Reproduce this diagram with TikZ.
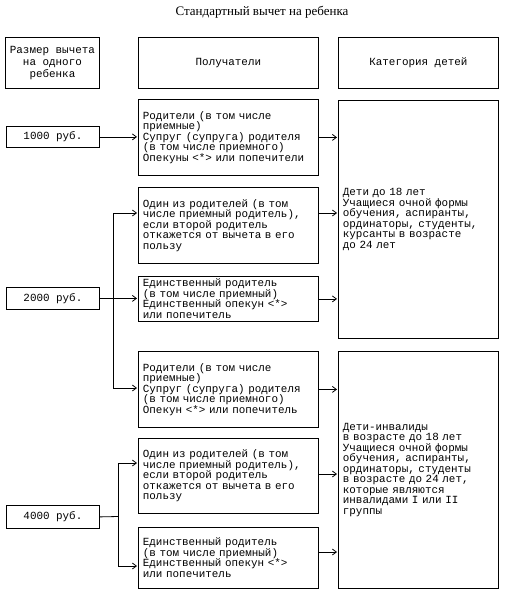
\documentclass[tikz,border=0pt]{standalone}
\usepackage{fontspec}
\setmainfont{Liberation Serif}
\newfontfamily\monofnt{Liberation Mono}
\usetikzlibrary{arrows.meta}
\begin{document}
\begin{tikzpicture}[x=1pt,y=-1pt,line width=0.8pt,
  boxbase/.style={draw,anchor=north west,inner ysep=0pt,inner xsep=4.5pt,font=\monofnt\fontsize{10.9}{10.5}\selectfont},
  colb/.style={boxbase,minimum width=180pt,text width=171pt,align=left},
  colc/.style={boxbase,minimum width=160pt,text width=151pt,align=left,inner xsep=4pt},
  hdr/.style={boxbase,minimum height=51pt,align=center,font=\monofnt\fontsize{10.9}{12}\selectfont},
  numbox/.style={boxbase,minimum width=93pt,minimum height=21pt,align=center},
  arr/.style={-{Straight Barb[length=4pt,width=6pt]},shorten >=1pt}
]
\useasboundingbox[fill=white] (0,0) rectangle (505,599);

\node[font=\fontsize{13}{15}\selectfont] (title) at (262,12) {Стандартный вычет на ребенка};

\node[hdr,minimum width=94pt] (ha) at (5,37) {Размер вычета\\на одного\\ребенка};
\node[hdr,minimum width=180pt] (hb) at (138,37) {Получатели};
\node[hdr,minimum width=160pt] (hc) at (338,37) {Категория детей};

\node[numbox] (n1) at (6,126) {1000 руб.};
\node[colb,minimum height=76pt] (b1) at (138,99) {Родители (в том числе\\приемные)\\Супруг (супруга) родителя\\(в том числе приемного)\\Опекуны <*> или попечители};
\node[colc,minimum height=238pt] (c1) at (338,100) {Дети до 18 лет\\Учащиеся очной формы\\обучения, аспиранты,\\ординаторы, студенты,\\курсанты в возрасте\\до 24 лет};

\node[colb,minimum height=76pt] (b2) at (138,187) {Один из родителей (в том\\числе приемный родитель),\\если второй родитель\\откажется от вычета в его\\пользу};
\node[colb,minimum height=45pt] (b3) at (138,276) {Единственный родитель\\(в том числе приемный)\\Единственный опекун <*>\\или попечитель};
\node[numbox,minimum height=22pt] (n2) at (6,287) {2000 руб.};

\node[colb,minimum height=76pt] (b4) at (138,351) {Родители (в том числе\\приемные)\\Супруг (супруга) родителя\\(в том числе приемного)\\Опекун <*> или попечитель};
\node[colc,minimum height=237pt] (c2) at (338,351) {Дети-инвалиды\\в возрасте до 18 лет\\Учащиеся очной формы\\обучения, аспиранты,\\ординаторы, студенты\\в возрасте до 24 лет,\\которые являются\\инвалидами I или II\\группы};
\node[colb,minimum height=75pt] (b5) at (138,438) {Один из родителей (в том\\числе приемный родитель),\\если второй родитель\\откажется от вычета в его\\пользу};
\node[colb,minimum height=61pt] (b6) at (138,527) {Единственный родитель\\(в том числе приемный)\\Единственный опекун <*>\\или попечитель};
\node[numbox,minimum height=23pt] (n3) at (6,505) {4000 руб.};

% 1000
\draw[arr] (n1.east) -- (n1.east -| b1.west);
\draw[arr] (b1.east) -- (b1.east -| c1.west);

% 2000
\coordinate (j2a) at (113,213);
\coordinate (j2b) at (113,388);
\draw (j2a) -- (j2b);
\draw[arr] (n2.east) -- (n2.east -| b3.west);
\draw[arr] (j2a) -- (j2a -| b2.west);
\draw[arr] (j2b) -- (j2b -| b4.west);
\draw[arr] (j2a -| b2.east) -- (j2a -| c1.west);
\draw[arr] (b3.east) -- (b3.east -| c1.west);
\draw[arr] (b4.east) -- (b4.east -| c2.west);

% 4000
\coordinate (j3) at (118,516.5);
\coordinate (j3a) at (118,463);
\coordinate (j3b) at (118,566);
\draw (n3.east) -- (j3);
\draw (j3a) -- (j3b);
\draw[arr] (j3a) -- (j3a -| b5.west);
\draw[arr] (j3b) -- (j3b -| b6.west);
\coordinate (o5) at (0,474);
\coordinate (o6) at (0,552);
\draw[arr] (o5 -| b5.east) -- (o5 -| c2.west);
\draw[arr] (o6 -| b6.east) -- (o6 -| c2.west);
\end{tikzpicture}
\end{document}
